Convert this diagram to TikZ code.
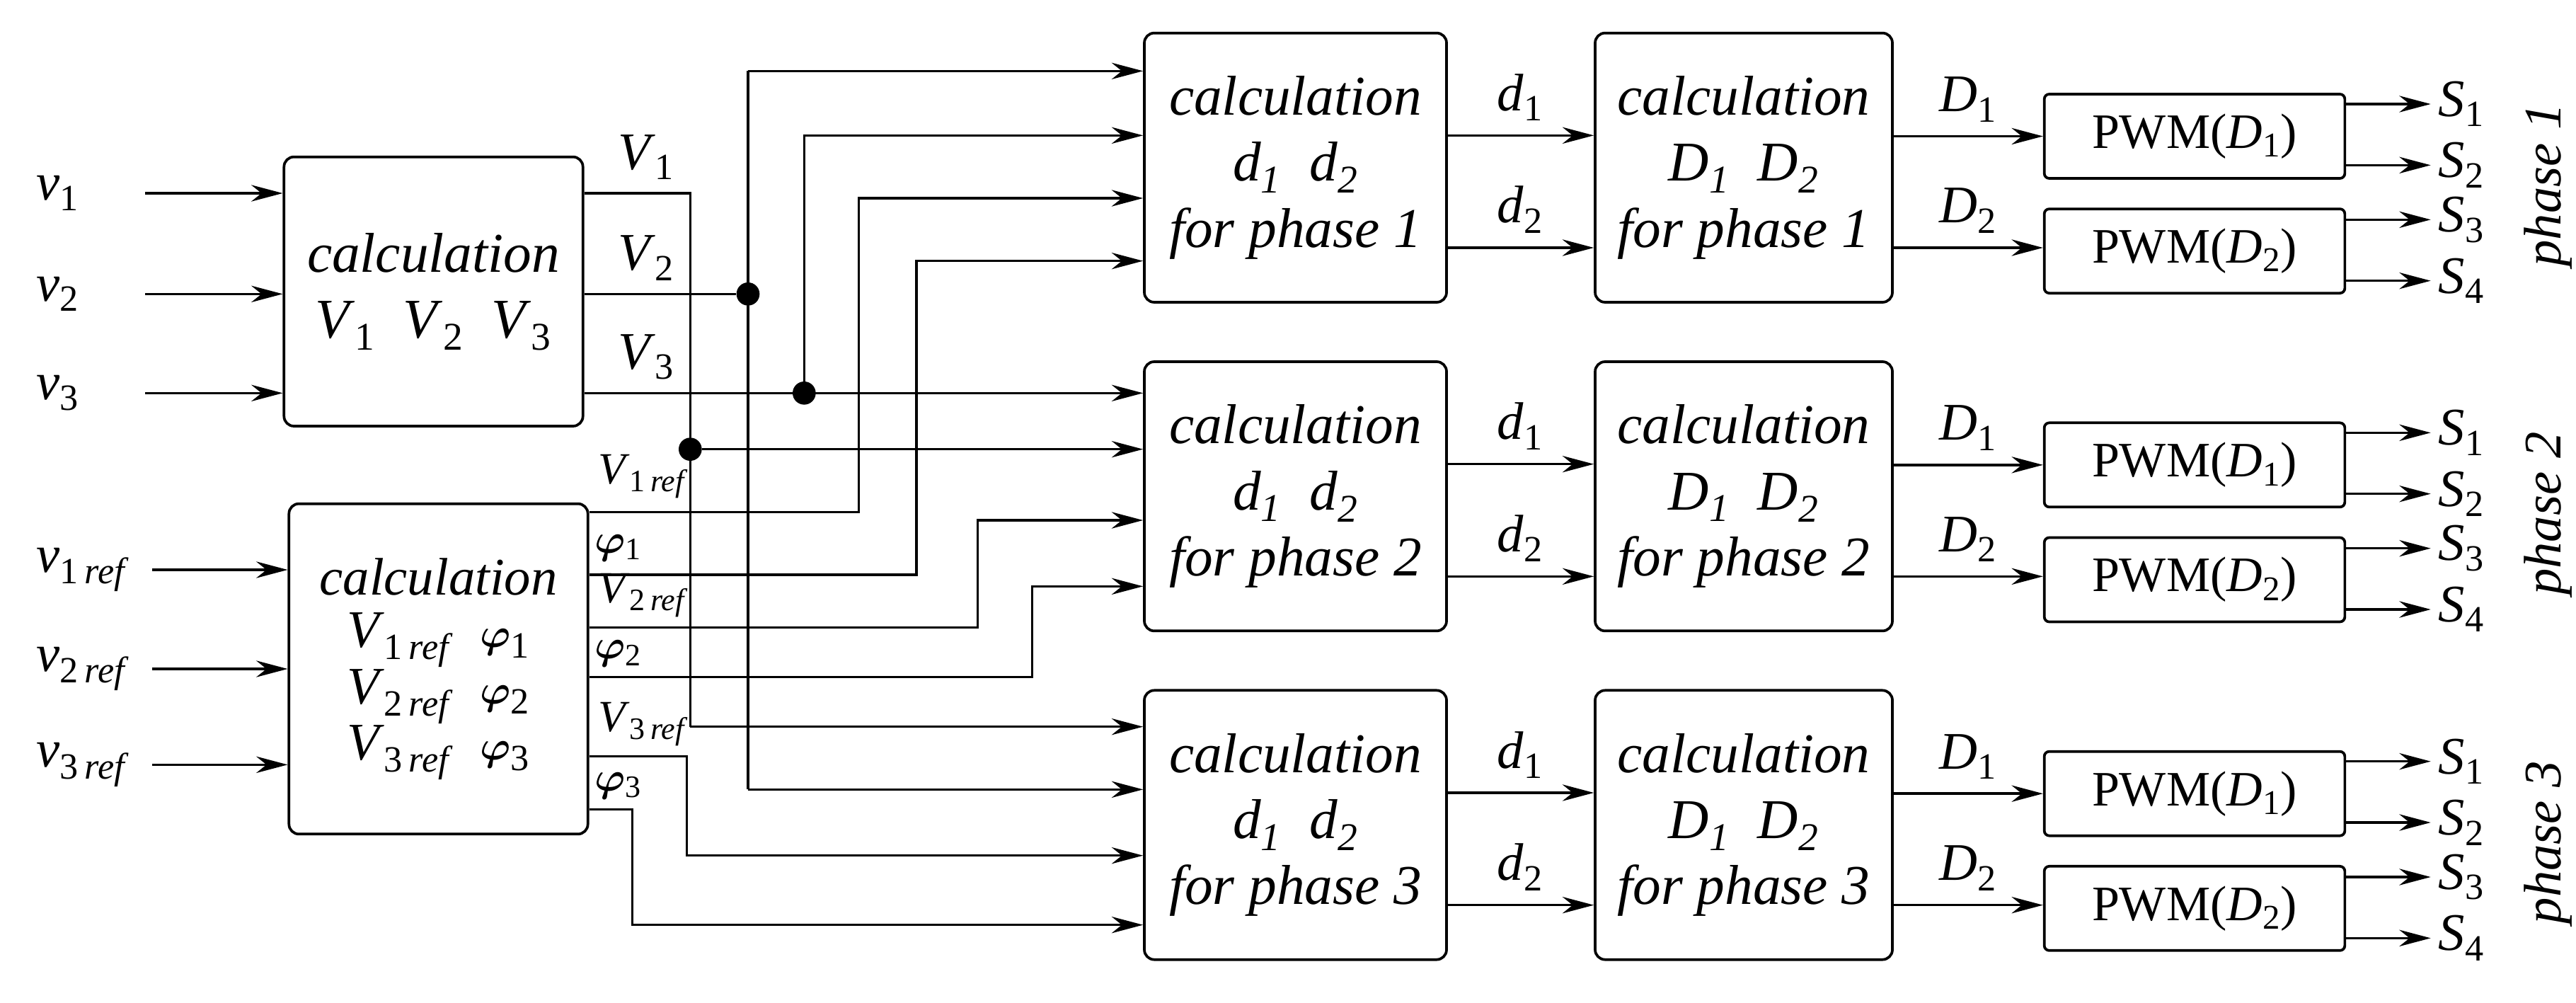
\documentclass[tikz,border=0pt]{standalone}
\usepackage{fontspec}
\setmainfont{Liberation Serif}
\usepackage{amsmath,bm}
\usepackage{tikz}
\usetikzlibrary{arrows.meta}

\newcommand{\sym}[2]{\textit{#1}\textsubscript{#2}}
\newcommand{\symref}[2]{\textit{#1}\textsubscript{#2\,\textit{ref}}}
\newcommand{\phisub}[1]{$\bm{\varphi}$\textsubscript{#1}}

\tikzset{
  blk/.style={draw,line width=1.6pt,rounded corners=6pt,align=center,font=\fontsize{34}{40}\selectfont\itshape},
  pwm/.style={draw,line width=1.6pt,rounded corners=3pt,minimum width=182,minimum height=51,font=\fontsize{30}{34}\selectfont},
  lbl/.style={inner sep=0pt,font=\fontsize{32}{36}\selectfont},
  sml/.style={inner sep=0pt,font=\fontsize{27}{30}\selectfont,anchor=south west},
  wire/.style={line width=1.5pt},
  arr/.style={wire,-{Stealth[length=19pt,width=10pt]}},
  dot/.style={circle,fill,inner sep=0pt,minimum size=14pt}
}

\begin{document}
\begin{tikzpicture}[x=1pt,y=1pt,yscale=-1]
\useasboundingbox (0,0) rectangle (1560,607);

% input blocks
\node[blk,minimum width=181,minimum height=163] (calcV) at (262.5,176.5) {calculation\\\upshape\sym{V}{1}\ \ \sym{V}{2}\ \ \sym{V}{3}};
\node[blk,minimum width=181,minimum height=200,font=\fontsize{32}{34}\selectfont\itshape] (calcR) at (265.5,405) {calculation\\[-2pt]\upshape\symref{V}{1}\ \ \phisub{1}\\\upshape\symref{V}{2}\ \ \phisub{2}\\\upshape\symref{V}{3}\ \ \phisub{3}};

% inputs
\foreach \i/\y in {1/117,2/178,3/238}{
  \node[lbl,anchor=west] (v\i) at (22,\y) {\sym{v}{\i}};
  \coordinate (vs\i) at (88,\y);
  \draw[arr] (vs\i) -- (vs\i -| calcV.west);
}
\foreach \i/\y in {1/345,2/405,3/463}{
  \node[lbl,anchor=west] (vr\i) at (22,\y) {\symref{v}{\i}};
  \coordinate (vrs\i) at (92,\y);
  \draw[arr] (vrs\i) -- (vrs\i -| calcR.west);
}

% phase rows
\foreach \i/\dy in {1/0,2/199,3/398}{
  \node[blk,minimum width=183,minimum height=163] (P\i) at (784.5,101.5+\dy) {calculation\\\sym{d}{1}\ \ \sym{d}{2}\\for phase \i};
  \node[blk,minimum width=180,minimum height=163] (Q\i) at (1056,101.5+\dy) {calculation\\\sym{D}{1}\ \ \sym{D}{2}\\for phase \i};
  \node[pwm] (W\i a) at (1329,82.5+\dy) {PWM(\sym{D}{1})};
  \node[pwm] (W\i b) at (1329,152+\dy) {PWM(\sym{D}{2})};
  \coordinate (d\i a) at (876,82+\dy);
  \coordinate (d\i b) at (876,150+\dy);
  \draw[arr] (d\i a) -- (d\i a -| Q\i.west) node[lbl,midway,above=8pt] {\sym{d}{1}};
  \draw[arr] (d\i b) -- (d\i b -| Q\i.west) node[lbl,midway,above=8pt] {\sym{d}{2}};
  \draw[arr] (Q\i.east |- W\i a) -- (W\i a.west) node[lbl,midway,above=8pt] {\sym{D}{1}};
  \draw[arr] (Q\i.east |- d\i b) -- (d\i b -| W\i b.west) node[lbl,midway,above=8pt] {\sym{D}{2}};
  \foreach \k/\y in {1/63,2/100,3/133,4/170}{
    \coordinate (s\i\k) at (1420,\y+\dy);
    \draw[arr] (s\i\k) -- ++(52,0) node[lbl,anchor=west,xshift=4pt] {\sym{S}{\k}};
  }
  \node[lbl,rotate=90,font=\fontsize{32}{34}\selectfont\itshape] (ph\i) at (1543,112+\dy) {phase \i};
}

% output labels
\node[lbl,anchor=south west] (lV1) at (374,109) {\sym{V}{1}};
\node[lbl,anchor=south west] (lV2) at (374,170) {\sym{V}{2}};
\node[lbl,anchor=south west] (lV3) at (374,230) {\sym{V}{3}};
\node[sml] (lR1) at (362,302) {\symref{V}{1}};
\node[sml] (lF1) at (360,340) {\phisub{1}};
\node[sml] (lR2) at (362,374) {\symref{V}{2}};
\node[sml] (lF2) at (360,404) {\phisub{2}};
\node[sml] (lR3) at (362,452) {\symref{V}{3}};
\node[sml] (lF3) at (360,484) {\phisub{3}};

% junctions
\node[dot] (jV2) at (453,178) {};
\node[dot] (jV3) at (487,238) {};
\node[dot] (jV1) at (418,272) {};
\coordinate (tV2) at (453,43);
\coordinate (bV2) at (453,478);
\coordinate (bV1) at (418,440);

% wiring
\draw[wire] (calcV.east |- jV2) -- (jV2);
\draw[wire] (calcV.east |- 0,117) -| (bV1);
\draw[arr] (bV1) -- (bV1 -| P3.west);
\draw[arr] (jV1) -- (jV1 -| P2.west);
\draw[wire] (tV2) -- (bV2);
\draw[arr] (tV2) -- (tV2 -| P1.west);
\draw[arr] (bV2) -- (bV2 -| P3.west);
\draw[arr] (calcV.east |- jV3) -- (jV3 -| P2.west);
\draw[arr] (jV3) |- (P1.west |- 0,82);
\draw[arr] (calcR.east |- 0,310) -| (520,120) -- (P1.west |- 0,120);
\draw[arr] (calcR.east |- 0,348) -| (555,158) -- (P1.west |- 0,158);
\draw[arr] (calcR.east |- 0,380) -| (592,315) -- (P2.west |- 0,315);
\draw[arr] (calcR.east |- 0,410) -| (625,355) -- (P2.west |- 0,355);
\draw[arr] (calcR.east |- 0,458) -| (416,518) -- (P3.west |- 0,518);
\draw[arr] (calcR.east |- 0,490) -| (383,560) -- (P3.west |- 0,560);

\end{tikzpicture}
\end{document}
